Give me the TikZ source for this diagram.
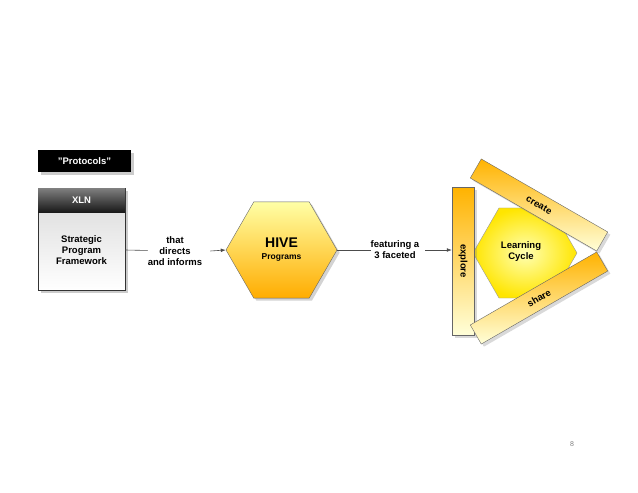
\documentclass[tikz,border=0pt]{standalone}
\usepackage{fontspec}
\setmainfont{Liberation Sans}
\usetikzlibrary{shapes,shadows,arrows.meta}
\tikzset{font=\bfseries\fontsize{9.5}{11}\selectfont}
\tikzstyle{none}=[inner sep=0pt,align=center]
\tikzstyle{bar}=[rectangle,draw=black!60,minimum width=146pt,minimum height=22pt,inner sep=0pt,top color=orange!60!yellow,bottom color=yellow!15,drop shadow={opacity=0.3}]
\tikzstyle{conn}=[draw=black!70,line width=0.6pt]
\begin{document}
\begin{tikzpicture}[x=1pt,y=-1pt]
	\useasboundingbox (0,0) rectangle (638,493);
	% left boxes
	\node [fill=black,text=white,minimum width=93pt,minimum height=22pt,drop shadow={opacity=0.4}] (prot) at (84.5,161) {"Protocols"};
	\node [draw=black!80,top color=black!15,bottom color=white,minimum width=87pt,minimum height=102pt,drop shadow={opacity=0.4}] (xln) at (81.5,239) {};
	\node [fill=black!75,top color=black!50,bottom color=black!90,text=white,minimum width=87pt,minimum height=24pt,anchor=north] (xlnh) at (xln.north) {XLN};
	\node [style=none] (spf) at (81.5,250) {Strategic\\Program\\Framework};
	\node [style=none] (that) at (175,251) {that\\directs\\and informs};
	% hive
	\node [regular polygon,regular polygon sides=6,shape border rotate=0,minimum size=111pt,inner sep=0pt,draw=black!60,top color=yellow!35,bottom color=orange!65!yellow,drop shadow={opacity=0.35}] (hive) at (281.5,250) {};
	\node [style=none] (hivet) at (281.5,250) {{\fontsize{14}{16}\selectfont HIVE}\\[1pt]{\fontsize{8.5}{10}\selectfont Programs}};
	\node [style=none] (feat) at (395,250) {featuring a\\3 faceted};
	% learning cycle
	\node [regular polygon,regular polygon sides=6,shape border rotate=0,minimum size=104pt,inner sep=0pt,draw=black!40,inner color=yellow!30,outer color=yellow!80!orange] (lc) at (525,253) {};
	\node [style=none] (lct) at (521,252) {Learning\\Cycle};
	\node [style=bar,rotate=-30] (create) at (539,205) {create};
	\node [style=bar,rotate=-90,minimum width=148pt] (explore) at (463,261) {explore};
	\node [style=bar,rotate=30] (share) at (539,298) {share};
	% connectors
	\draw [style=conn] (xln.east |- spf) -- (that);
	\draw [style=conn,-{Latex[length=5pt]}] (that.east) ++(8,0) -- (hive.west);
	\draw [style=conn] (hive.east) -- (feat);
	\draw [style=conn,-{Latex[length=5pt]}] (feat.east) ++(6,0) -- (explore.south |- feat);
	\node [font=\fontsize{7}{8}\selectfont,text=black!50] (pg) at (572,444) {8};
\end{tikzpicture}
\end{document}
